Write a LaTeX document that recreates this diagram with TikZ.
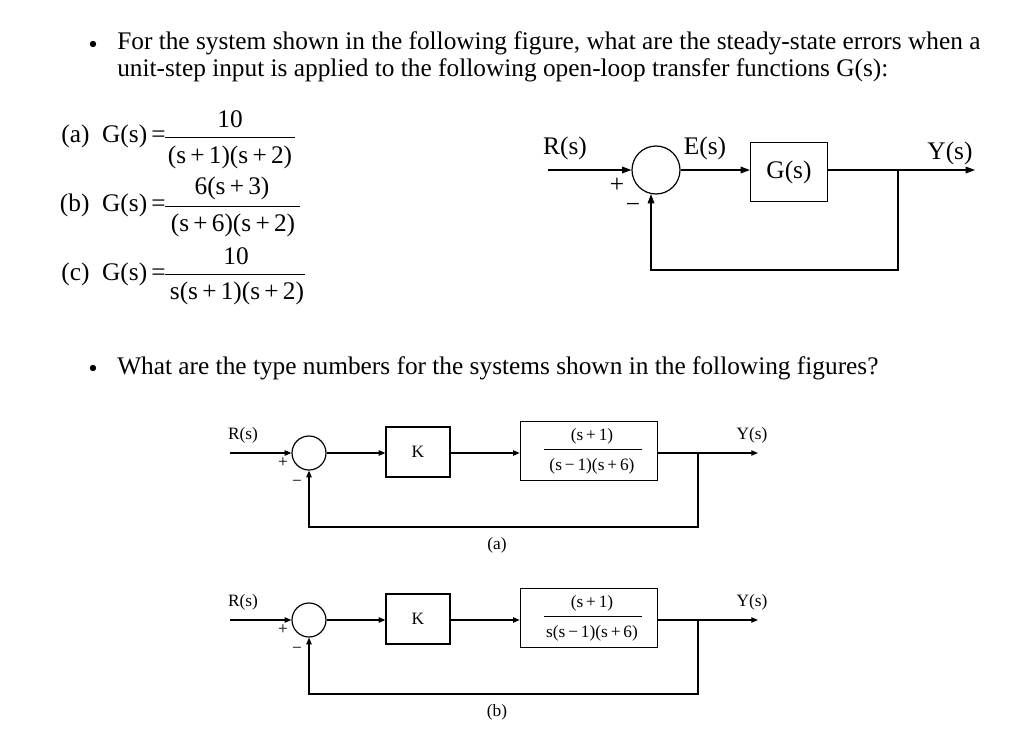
\documentclass[tikz,border=0pt]{standalone}
\usepackage{fontspec}
\setmainfont{Liberation Serif}
\usetikzlibrary{arrows.meta}
\begin{document}
\begin{tikzpicture}[x=0.75pt,y=-0.75pt,
  big/.style={font=\fontsize{19}{22}\selectfont,inner sep=0pt},
  sm/.style={font=\fontsize{13}{15}\selectfont,inner sep=0pt},
  blk/.style={draw,line width=0.9pt,inner sep=0pt},
  sig/.style={line width=0.9pt},
  arr/.style={sig,-{Triangle[length=7pt,width=5pt]}},
  sarr/.style={sig,-{Triangle[length=5pt,width=4pt]}}]
\useasboundingbox (0,0) rectangle (1024,742);
% bullet 1
\fill (93,44) circle (3.2);
\node[big,anchor=west] (t1) at (117,43) {For the system shown in the following figure, what are the steady-state errors when a};
\node[big,anchor=west] (t2) at (117,70) {unit-step input is applied to the following open-loop transfer functions G(s):};
% equations
\node[big,anchor=east] (ea) at (166,136) {(a)\ \ G(s)\,=};
\draw[line width=0.7pt] (165,137) -- (295,137);
\node[big] (na) at (230,119) {10};
\node[big] (da) at (230,157) {(s\,+\,1)(s\,+\,2)};
\node[big,anchor=east] (eb) at (166,205) {(b)\ \ G(s)\,=};
\draw[line width=0.7pt] (165,206) -- (300,206);
\node[big] (nb) at (232,188) {6(s\,+\,3)};
\node[big] (db) at (233,225) {(s\,+\,6)(s\,+\,2)};
\node[big,anchor=east] (ec) at (166,274) {(c)\ \ G(s)\,=};
\draw[line width=0.7pt] (165,274) -- (305,274);
\node[big] (nc) at (236,256) {10};
\node[big] (dc) at (237,293) {s(s\,+\,1)(s\,+\,2)};
% top diagram
\node[big] (R0) at (565,148) {R(s)};
\coordinate (in0) at (548,170);
\node[draw,circle,line width=0.9pt,minimum size=36pt,inner sep=0pt] (c0) at (656,170) {};
\node[big] (p0) at (617,185) {+};
\node[big] (m0) at (633,208) {−};
\node[big] (E0) at (705,148) {E(s)};
\node[blk,minimum width=57.75pt,minimum height=44.25pt] (G0) at (789,172) {};
\node[big] at (G0) {G(s)};
\coordinate (out0) at (975,170);
\coordinate (br0) at (898,170);
\node[big] (Y0) at (950,153) {Y(s)};
\draw[arr] (in0) -- (c0.west);
\draw[arr] (c0.east) -- (G0.west |- c0.east);
\draw[arr] (G0.east |- out0) -- (out0);
\draw[arr] (br0) -- (898,270) -- (651,270) -- (651,194);
% bullet 2
\fill (93,368) circle (3.2);
\node[big,anchor=west] (t3) at (117,368) {What are the type numbers for the systems shown in the following figures?};
% bottom diagrams
\foreach \dy/\lab/\den in {0/(a)/{(s\,−\,1)(s\,+\,6)},167/(b)/{s(s\,−\,1)(s\,+\,6)}}{
  \begin{scope}[yshift=-\dy*0.75pt]
  \node[sm] (R) at (243,435) {R(s)};
  \coordinate (in) at (230,453);
  \node[draw,circle,line width=0.9pt,minimum size=25.5pt,inner sep=0pt] (c) at (309,453) {};
  \node[sm] at (283,463) {+};
  \node[sm] at (297,483) {−};
  \node[blk,minimum width=48pt,minimum height=37.5pt] (K) at (418,452) {};
  \node[sm] at (K) {K};
  \node[blk,minimum width=103pt,minimum height=44pt] (P) at (589,451) {};
  \draw[line width=0.6pt] (544,449) -- (642,449);
  \node[sm] at (592,436) {(s\,+\,1)};
  \node[sm] at (592,466) {\den};
  \coordinate (out) at (758,453);
  \node[sm] (Y) at (752,435) {Y(s)};
  \draw[sarr] (in) -- (c.west);
  \draw[sarr] (c.east) -- (K.west |- c.east);
  \draw[sarr] (K.east |- c.east) -- (P.west |- c.east);
  \draw[sarr] (P.east |- out) -- (out);
  \draw[sarr] (698,453) -- (698,527) -- (309,527) -- (c.south);
  \node[sm] at (497,545) {\lab};
  \end{scope}
}
\end{tikzpicture}
\end{document}
